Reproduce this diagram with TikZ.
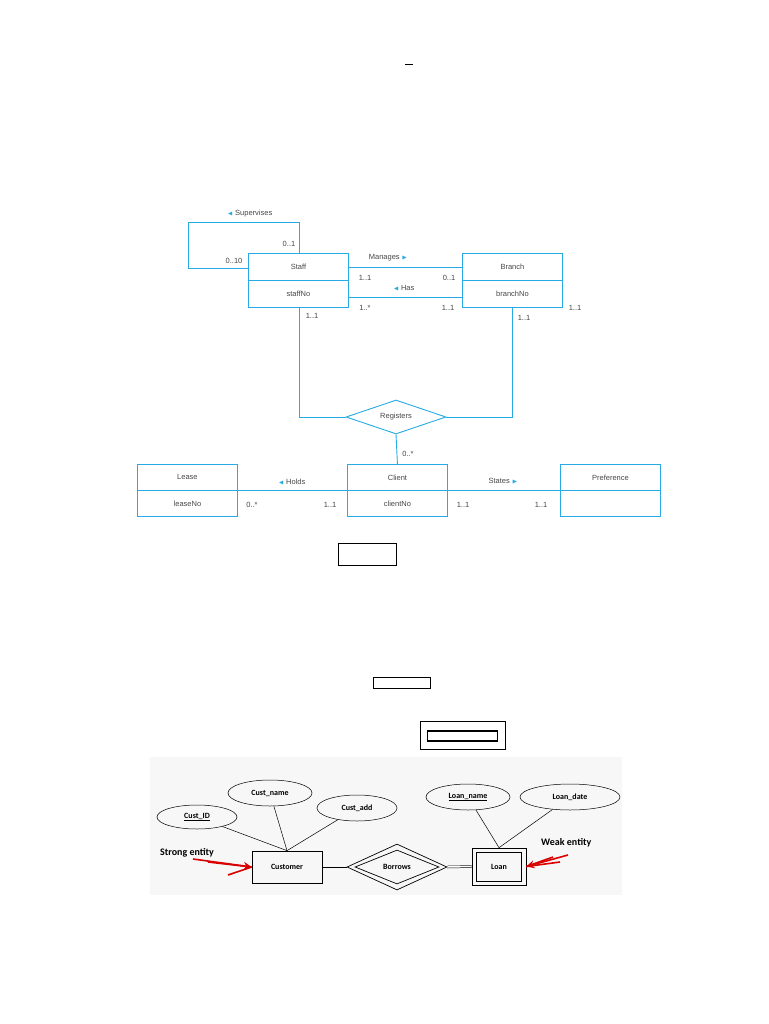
\documentclass[tikz,border=0pt]{standalone}
\usepackage{amssymb}
\usepackage{fontspec}
\setmainfont{Liberation Sans}
\newfontfamily\carl{Carlito}
\usetikzlibrary{shapes.geometric,arrows.meta}
\definecolor{er}{RGB}{40,170,230}
\definecolor{lbl}{RGB}{70,70,70}
\begin{document}
\begin{tikzpicture}[x=1pt,y=-1pt,
  ent/.style={draw=er,line width=0.9pt,minimum width=100pt,minimum height=27pt,inner sep=0pt,font=\fontsize{7.5}{9}\selectfont,text=lbl},
  con/.style={draw=er,line width=0.9pt},
  lb/.style={font=\fontsize{7.5}{9}\selectfont,text=lbl,inner sep=1pt},
  att/.style={draw,ellipse,line width=0.5pt,font=\carl\bfseries\fontsize{8}{9}\selectfont,inner sep=0pt},
  bx/.style={draw,line width=0.7pt,font=\carl\bfseries\fontsize{8}{9}\selectfont,inner sep=0pt},
  red/.style={draw=red!85!black,line width=1.6pt}]
\useasboundingbox (0,0) rectangle (768,1024);
% top small marks
\draw[line width=0.8pt] (405,64) -- (413,64);
% Entities
\node[ent,anchor=north west] (staff) at (248,253) {Staff};
\node[ent,anchor=north west] (staffk) at (248,280) {staffNo};
\node[ent,anchor=north west] (branch) at (462,253) {Branch};
\node[ent,anchor=north west] (branchk) at (462,280) {branchNo};
\node[ent,anchor=north west,minimum height=26pt] (client) at (347,464) {Client};
\node[ent,anchor=north west,minimum height=26pt] (clientk) at (347,490) {clientNo};
\node[ent,anchor=north west,minimum height=26pt] (lease) at (137,464) {Lease};
\node[ent,anchor=north west,minimum height=26pt] (leasek) at (137,490) {leaseNo};
\node[ent,anchor=north west,minimum height=26pt] (pref) at (560,464) {Preference};
\node[ent,anchor=north west,minimum height=26pt] (prefk) at (560,490) {};
\node[draw=er,line width=0.9pt,diamond,aspect=2.9,minimum width=100pt,minimum height=34pt,inner sep=0pt,font=\fontsize{7.5}{9}\selectfont,text=lbl] (reg) at (396,417) {Registers};
% connectors
\coordinate (s1) at (188,268); \coordinate (s2) at (188,222); \coordinate (s3) at (299,222);
\draw[con] (staff.west |- 0,268) -- (s1) -- (s2) -- (s3) -- (staff.north -| 299,0);
\draw[con] (staff.east |- 0,267) -- (branch.west |- 0,267);
\draw[con] (staffk.east |- 0,297) -- (branchk.west |- 0,297);
\coordinate (r1) at (299,417); \coordinate (r2) at (512,417);
\draw[con] (staffk.south -| 299,0) -- (r1) -- (reg.west);
\draw[con] (branchk.south -| 512,0) -- (r2) -- (reg.east);
\draw[con] (reg.south) -- (client.north);
\draw[con] (leasek.north east) -- (clientk.north west);
\draw[con] (clientk.north east) -- (prefk.north west);
% labels
\node[lb] at (250,214) {\textcolor{er}{\fontsize{6}{7}\selectfont$\blacktriangleleft$} Supervises};
\node[lb] at (289,244) {0..1};
\node[lb] at (234,261) {0..10};
\node[lb] at (388,258) {Manages \textcolor{er}{\fontsize{6}{7}\selectfont$\blacktriangleright$}};
\node[lb] at (365,278) {1..1};
\node[lb] at (449,278) {0..1};
\node[lb] at (404,288) {\textcolor{er}{\fontsize{6}{7}\selectfont$\blacktriangleleft$} Has};
\node[lb] at (365,308) {1..*};
\node[lb] at (448,308) {1..1};
\node[lb] at (575,308) {1..1};
\node[lb] at (312,316) {1..1};
\node[lb] at (524,318) {1..1};
\node[lb] at (408,454) {0..*};
\node[lb] at (292,482) {\textcolor{er}{\fontsize{6}{7}\selectfont$\blacktriangleleft$} Holds};
\node[lb] at (503,481) {States \textcolor{er}{\fontsize{6}{7}\selectfont$\blacktriangleright$}};
\node[lb] at (252,505) {0..*};
\node[lb] at (330,505) {1..1};
\node[lb] at (463,505) {1..1};
\node[lb] at (541,505) {1..1};
% small rectangles
\node[draw,line width=0.7pt,minimum width=58pt,minimum height=22pt,inner sep=0pt] (r_a) at (367,554) {};
\node[draw,line width=0.7pt,minimum width=57pt,minimum height=11pt,inner sep=0pt] (r_b) at (401.5,682.5) {};
\node[draw,line width=0.7pt,minimum width=85pt,minimum height=28pt,inner sep=0pt] (r_c) at (462.5,735) {};
\node[draw,line width=1.4pt,minimum width=70pt,minimum height=10pt,inner sep=0pt] (r_d) at (462.5,736) {};
% bottom ER picture
\fill[black!3] (150,757) rectangle (622,895);
\node[att,minimum width=80pt,minimum height=24pt] (cid) at (197,817) {\underline{Cust\_ID}};
\node[att,minimum width=84pt,minimum height=26pt] (cname) at (270,793) {Cust\_name};
\node[att,minimum width=80pt,minimum height=26pt] (cadd) at (357,808) {Cust\_add};
\node[att,minimum width=84pt,minimum height=26pt] (lname) at (468,797) {\underline{Loan\_name}};
\node[att,minimum width=100pt,minimum height=26pt] (ldate) at (570,797) {Loan\_date};
\node[bx,minimum width=70pt,minimum height=32pt] (cust) at (287,867) {Customer};
\node[bx,minimum width=54pt,minimum height=37pt] (loan) at (499,866.5) {Loan};
\node[draw,line width=0.7pt,minimum width=45pt,minimum height=29pt,inner sep=0pt] (loani) at (499,866.5) {};
\node[draw,diamond,aspect=2.2,line width=0.7pt,minimum width=100pt,minimum height=46pt,inner sep=0pt] (bor) at (397,867) {};
\node[draw,diamond,aspect=2.6,line width=0.7pt,minimum width=84pt,minimum height=34pt,inner sep=0pt,font=\carl\bfseries\fontsize{8}{9}\selectfont] (bori) at (397,867) {Borrows};
\draw[line width=0.5pt] (cid) -- (cust.north);
\draw[line width=0.5pt] (cname) -- (cust.north);
\draw[line width=0.5pt] (cadd) -- (cust.north);
\draw[line width=0.5pt] (lname) -- (loan.north);
\draw[line width=0.5pt] (ldate) -- (loan.north);
\draw[line width=0.5pt] (cust.east) -- (bor.west);
\draw[line width=0.5pt,double,double distance=1.5pt] (bor.east) -- (loan.west);
\node[font=\carl\bfseries\fontsize{10}{12}\selectfont,anchor=west,inner sep=0pt] (st) at (160,853) {Strong entity};
\node[font=\carl\bfseries\fontsize{10}{12}\selectfont,anchor=west,inner sep=0pt] (wk) at (541,843) {Weak entity};
\coordinate (sa1) at (193,859); \coordinate (sa2) at (228,875); \coordinate (sa3) at (208,862);
\draw[red,-{Stealth[length=8pt,width=8pt]}] (sa1) -- (cust.west);
\draw[red] (sa2) -- (cust.west);
\draw[red] (sa3) -- (cust.west);
\coordinate (wa1) at (568,855); \coordinate (wa2) at (553,857); \coordinate (wa3) at (560,862);
\draw[red,-{Stealth[length=8pt,width=8pt]}] (wa1) -- (loan.east);
\draw[red] (wa2) -- (loan.east);
\draw[red] (wa3) -- (loan.east);
\end{tikzpicture}
\end{document}
